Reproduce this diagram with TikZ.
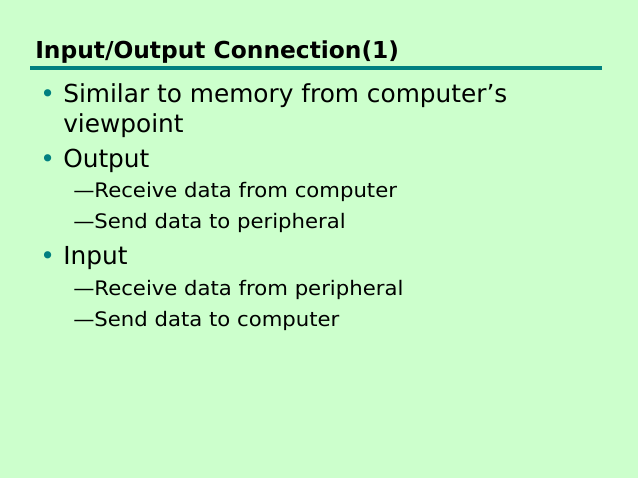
\documentclass[tikz,border=0pt]{standalone}
\usepackage{fontspec}
\setmainfont{DejaVu Sans}
\newfontfamily\subfont[FakeStretch=1.06]{DejaVu Sans}
\definecolor{bg}{HTML}{CCFFCC}
\definecolor{teal2}{HTML}{008080}
\begin{document}
\begin{tikzpicture}[x=0.75pt,y=-0.75pt,
  big/.style={anchor=base west,inner sep=0pt,font=\fontsize{18.6}{21}\selectfont},
  bul/.style={anchor=base west,inner sep=0pt,text=teal2,font=\fontsize{18.6}{21}\selectfont},
  small/.style={anchor=base west,inner sep=0pt,font=\subfont\fontsize{15}{18}\selectfont}]
\fill[bg] (0,0) rectangle (638,478);
\useasboundingbox (0,0) rectangle (638,478);
\node[anchor=base west,inner sep=0pt,font=\fontsize{17.5}{20}\selectfont\bfseries] (title) at (35,59) {Input/Output Connection(1)};
\draw[teal2,line width=3pt] (30,68) -- (602,68);
\node[bul] (b1) at (40,103) {•};
\node[big] (t1) at (63,103) {Similar to memory from computer’s};
\node[big] (t1b) at (63,132) {viewpoint};
\node[bul] (b2) at (40,167) {•};
\node[big] (t2) at (63,167) {Output};
\node[small] (s1) at (73,197) {—Receive data from computer};
\node[small] (s2) at (73,228) {—Send data to peripheral};
\node[bul] (b3) at (40,264) {•};
\node[big] (t3) at (63,264) {Input};
\node[small] (s3) at (73,295) {—Receive data from peripheral};
\node[small] (s4) at (73,326) {—Send data to computer};
\end{tikzpicture}
\end{document}
